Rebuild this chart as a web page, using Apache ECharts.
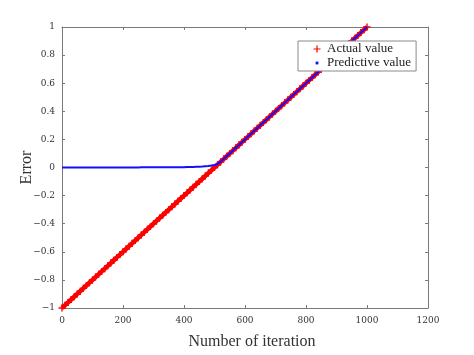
<!DOCTYPE html>
<html>
<head>
<meta charset="utf-8">
<script src="https://cdn.jsdelivr.net/npm/echarts@6/dist/echarts.min.js"></script>
<style>html,body{margin:0;padding:0;background:#fff}#c{width:474px;height:355px}</style>
</head>
<body>
<div id="c"></div>
<script>
const iterations = [0,10,20,30,40,50,60,70,80,90,100,110,120,130,140,150,160,170,180,190,200,210,220,230,240,250,260,270,280,290,300,310,320,330,340,350,360,370,380,390,400,410,420,430,440,450,460,470,480,490,500,510,520,530,540,550,560,570,580,590,600,610,620,630,640,650,660,670,680,690,700,710,720,730,740,750,760,770,780,790,800,810,820,830,840,850,860,870,880,890,900,910,920,930,940,950,960,970,980,990,1000];
const actualValue = [-1,-0.98,-0.96,-0.94,-0.92,-0.9,-0.88,-0.86,-0.84,-0.82,-0.8,-0.78,-0.76,-0.74,-0.72,-0.7,-0.68,-0.66,-0.64,-0.62,-0.6,-0.58,-0.56,-0.54,-0.52,-0.5,-0.48,-0.46,-0.44,-0.42,-0.4,-0.38,-0.36,-0.34,-0.32,-0.3,-0.28,-0.26,-0.24,-0.22,-0.2,-0.18,-0.16,-0.14,-0.12,-0.1,-0.08,-0.06,-0.04,-0.02,0,0.02,0.04,0.06,0.08,0.1,0.12,0.14,0.16,0.18,0.2,0.22,0.24,0.26,0.28,0.3,0.32,0.34,0.36,0.38,0.4,0.42,0.44,0.46,0.48,0.5,0.52,0.54,0.56,0.58,0.6,0.62,0.64,0.66,0.68,0.7,0.72,0.74,0.76,0.78,0.8,0.82,0.84,0.86,0.88,0.9,0.92,0.94,0.96,0.98,1];
const predictiveValue = [0,0,0,0,0,0,0,0,0,0,0,0,0,0,0,0,0,0,0,0,0,0,0,0,0,0,0.001,0.001,0.001,0.001,0.001,0.001,0.001,0.001,0.001,0.001,0.002,0.002,0.002,0.002,0.002,0.003,0.003,0.004,0.005,0.006,0.007,0.009,0.011,0.014,0.018,0.025,0.04,0.06,0.08,0.1,0.12,0.14,0.16,0.18,0.2,0.22,0.24,0.26,0.28,0.3,0.32,0.34,0.36,0.38,0.4,0.42,0.44,0.46,0.48,0.5,0.52,0.54,0.56,0.58,0.6,0.62,0.64,0.66,0.68,0.7,0.72,0.74,0.76,0.78,0.8,0.82,0.84,0.86,0.88,0.9,0.92,0.94,0.96,0.98,1];
const seriesNames = ['Actual value','Predictive value'];

const plus = 'path://M4,0H6V4H10V6H6V10H4V6H0V4H4Z';
const legendPlus = 'path://M0,0M20,8M14.4,0.5H15.6V3.4H18.5V4.6H15.6V7.5H14.4V4.6H11.5V3.4H14.4Z';
const legendDot = 'path://M0,0M20,8M13.6,2.6H16.4V5.4H13.6Z';
const serif = 'Liberation Serif';
const tickFont = 'DejaVu Serif';
const axisGrey = '#7a7a7a';
const red = '#ff0000';
const blue = '#1010ff';

const chart = echarts.init(document.getElementById('c'), null, {renderer:'canvas'});
const baseAxis = {
  axisLine:{show:true, onZero:false, lineStyle:{color:axisGrey, width:1}},
  axisTick:{show:true, inside:true, length:3, lineStyle:{color:axisGrey}},
  splitLine:{show:false}
};
chart.setOption({
  animation:false,
  backgroundColor:'#fff',
  grid:{left:62, right:46, top:27, bottom:40},
  legend:{
    z:20, zlevel:0,
    orient:'vertical', left:298, top:41,
    padding:[1,5,1,4], itemGap:0, itemWidth:20, itemHeight:8,
    borderColor:'#8a8a8a', borderWidth:1, backgroundColor:'#fff',
    textStyle:{fontFamily:serif, fontSize:13, lineHeight:14, color:'#222'},
    data:[{name:seriesNames[0], icon:legendPlus},{name:seriesNames[1], icon:legendDot}]
  },
  xAxis:[
    Object.assign({}, baseAxis, {type:'value', min:0, max:1200, interval:200, position:'bottom',
      name:'Number of iteration', nameLocation:'middle', nameGap:26, nameMoveOverlap:false,
      nameTextStyle:{fontFamily:serif, fontSize:16, color:'#333', padding:[0,0,0,14]},
      axisLabel:{fontFamily:tickFont, fontSize:9, color:'#333', margin:8,
        formatter:function(v){ return String(v); }}}),
    Object.assign({}, baseAxis, {type:'value', min:0, max:1200, interval:200, position:'top',
      axisLabel:{show:false}})
  ],
  yAxis:[
    Object.assign({}, baseAxis, {type:'value', min:-1, max:1, interval:0.2, position:'left',
      name:'Error', nameLocation:'middle', nameGap:27, nameMoveOverlap:false,
      nameTextStyle:{fontFamily:serif, fontSize:16, color:'#333'},
      axisLabel:{fontFamily:tickFont, fontSize:9, color:'#333', margin:7,
        formatter:function(v){ v = Math.round(v*10)/10; return v<0 ? '\u2212'+String(-v) : String(v); }}}),
    Object.assign({}, baseAxis, {type:'value', min:-1, max:1, interval:0.2, position:'right',
      axisLabel:{show:false}})
  ],
  series:[
    {name:seriesNames[0], type:'line', z:2, symbol:plus, symbolSize:7, showSymbol:true, showAllSymbol:true,
      lineStyle:{color:red, width:4.5}, itemStyle:{color:red}, clip:false,
      data:iterations.map((x,i)=>[x, actualValue[i]])},
    {name:seriesNames[1], type:'line', z:3, symbol:'circle', showSymbol:false, lineStyle:{color:blue, width:2},
      itemStyle:{color:blue}, clip:false,
      data:iterations.map((x,i)=>[x, predictiveValue[i]])}
  ]
});
</script>
</body>
</html>
